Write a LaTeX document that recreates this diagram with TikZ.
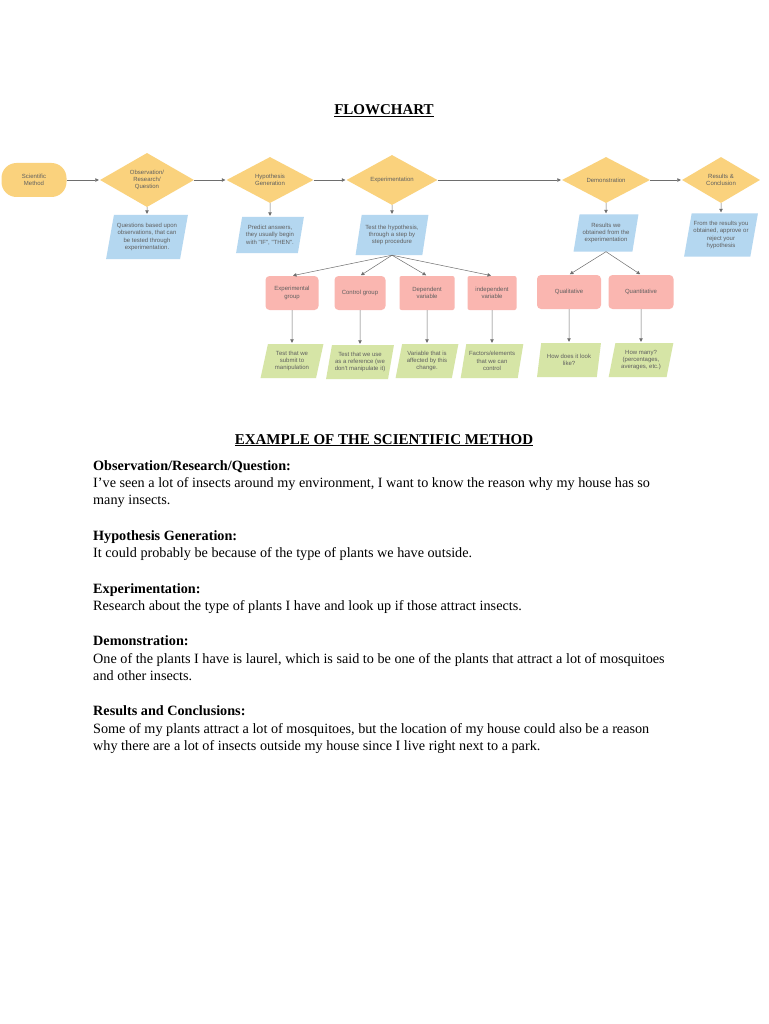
\documentclass[tikz,border=0pt]{standalone}
\usepackage{fontspec}
\setmainfont{Liberation Serif}
\newfontfamily\chartfont{Liberation Sans}
\usetikzlibrary{shapes.geometric,arrows.meta}
\definecolor{flowyellow}{RGB}{250,210,125}
\definecolor{flowblue}{RGB}{180,215,240}
\definecolor{flowpink}{RGB}{250,182,176}
\definecolor{flowgreen}{RGB}{214,229,166}
\definecolor{chartgray}{RGB}{95,95,95}
\definecolor{linegray}{RGB}{110,110,110}

\begin{document}
\begin{tikzpicture}[x=1pt, y=-1pt, line join=bevel,
                font=\fontsize{14.2}{17.5}\selectfont,
                titletext/.style={font=\fontsize{15}{17.5}\selectfont\bfseries},
                charttext/.style={font=\chartfont\fontsize{6}{7.3}\selectfont, text=chartgray, align=center, inner sep=1pt},
                startnode/.style={charttext, shape=rectangle, rounded corners=15pt, fill=flowyellow, minimum width=65pt, minimum height=34pt},
                stepnode/.style={charttext, shape=diamond, fill=flowyellow, inner sep=0pt},
                notenode/.style={charttext, shape=trapezium, trapezium left angle=76, trapezium right angle=104, trapezium stretches=true, fill=flowblue},
                partnode/.style={charttext, shape=rectangle, rounded corners=4pt, fill=flowpink, minimum height=34pt},
                detailnode/.style={charttext, shape=trapezium, trapezium left angle=76, trapezium right angle=104, trapezium stretches=true, fill=flowgreen, minimum height=34pt},
                flowarrow/.style={draw=linegray, line width=0.5pt, -{Triangle[length=3.5pt, width=3.5pt]}, shorten >=1pt}]
            \useasboundingbox[fill=white] (0,0) rectangle (768,1024);
            % Title
            \node[titletext, anchor=base] (charttitle) at (384,115) {\underline{FLOWCHART}};
            % Main steps
            \node[startnode] (scimethod) at (34,180) {Scientific\\Method};
            \node[stepnode, minimum width=94pt, minimum height=49pt] (observe) at (147,180) {Observation/\\Research/\\Question};
            \node[stepnode, minimum width=87pt, minimum height=46pt] (hypo) at (270,180) {Hypothesis\\Generation};
            \node[stepnode, minimum width=91pt, minimum height=50pt] (exper) at (392,180) {Experimentation};
            \node[stepnode, minimum width=88pt, minimum height=46pt] (demo) at (606,180) {Demonstration};
            \node[stepnode, minimum width=78pt, minimum height=46pt] (results) at (721,180) {Results \&\\Conclusion};
            % Notes under the steps
            \node[notenode, minimum width=82pt, minimum height=44pt] (observenote) at (147,237) {Questions based upon\\observations, that can\\be tested through\\experimentation.};
            \node[notenode, minimum width=68pt, minimum height=36pt] (hyponote) at (270,235) {Predict answers,\\they usually begin\\with "IF", "THEN".};
            \node[notenode, minimum width=73pt, minimum height=40pt] (expernote) at (392,235) {Test the hypothesis,\\through a step by\\step procedure};
            \node[notenode, minimum width=65pt, minimum height=37pt] (demonote) at (606,233) {Results we\\obtained from the\\experimentation};
            \node[notenode, minimum width=74pt, minimum height=43pt] (resultsnote) at (721,235) {From the results you\\obtained, approve or\\reject your\\hypothesis};
            % Parts of the experiment and the demonstration
            \node[partnode, minimum width=53pt] (expgroup) at (292,293) {Experimental\\group};
            \node[partnode, minimum width=51pt] (ctrlgroup) at (360,293) {Control group};
            \node[partnode, minimum width=55pt, rounded corners=2pt] (depvar) at (427,293) {Dependent\\variable};
            \node[partnode, minimum width=49pt, rounded corners=2pt] (indepvar) at (492,293) {independent\\variable};
            \node[partnode, minimum width=64pt] (qual) at (569,292) {Qualitative};
            \node[partnode, minimum width=65pt] (quant) at (641,292) {Quantitative};
            % Details
            \node[detailnode, minimum width=63pt] (expgroupnote) at (292,361) {Test that we\\submit to\\manipulation};
            \node[detailnode, minimum width=68pt] (ctrlgroupnote) at (360,362) {Test that we use\\as a reference (we\\don't manipulate it)};
            \node[detailnode, minimum width=63pt] (depvarnote) at (427,361) {Variable that is\\affected by this\\change.};
            \node[detailnode, minimum width=63pt] (indepvarnote) at (492,361) {Factors/elements\\that we can\\control};
            \node[detailnode, minimum width=64pt] (qualnote) at (569,360) {How does it look\\like?};
            \node[detailnode, minimum width=65pt] (quantnote) at (641,360) {How many?\\(percentages,\\averages, etc.)};
            % Connectors
            \draw[flowarrow] (scimethod) -- (observe);
            \draw[flowarrow] (observe) -- (hypo);
            \draw[flowarrow] (hypo) -- (exper);
            \draw[flowarrow] (exper) -- (demo);
            \draw[flowarrow] (demo) -- (results);
            \foreach \step in {observe, hypo, exper, demo, results} {
                \draw[flowarrow] (\step.south) -- (\step note.north);
            }
            \foreach \part in {expgroup, ctrlgroup, depvar, indepvar} {
                \draw[flowarrow] (expernote.south) -- (\part.north);
                \draw[flowarrow] (\part.south) -- (\part note.north);
            }
            \foreach \part in {qual, quant} {
                \draw[flowarrow] (demonote.south) -- (\part.north);
                \draw[flowarrow] (\part.south) -- (\part note.north);
            }
            % Example text
            \node[titletext, anchor=base] (exampletitle) at (384,444) {\underline{EXAMPLE OF THE SCIENTIFIC METHOD}};
            \foreach \y/\txt in {
                470/{\textbf{Observation/Research/Question:}},
                487/{I've seen a lot of insects around my environment, I want to know the reason why my house has so},
                504/{many insects.},
                540/{\textbf{Hypothesis Generation:}},
                557/{It could probably be because of the type of plants we have outside.},
                593/{\textbf{Experimentation:}},
                610/{Research about the type of plants I have and look up if those attract insects.},
                645/{\textbf{Demonstration:}},
                663/{One of the plants I have is laurel, which is said to be one of the plants that attract a lot of mosquitoes},
                680/{and other insects.},
                715/{\textbf{Results and Conclusions:}},
                733/{Some of my plants attract a lot of mosquitoes, but the location of my house could also be a reason},
                750/{why there are a lot of insects outside my house since I live right next to a park.}} {
                \node[anchor=base west, inner sep=0pt] (line\y) at (93,\y) {\txt};
            }
\end{tikzpicture}
\end{document}
